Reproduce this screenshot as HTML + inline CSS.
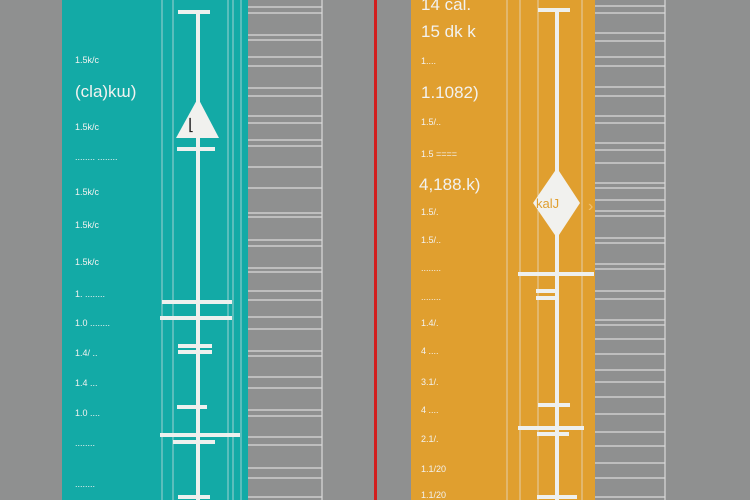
<!DOCTYPE html>
<html><head><meta charset="utf-8"><style>
html,body{margin:0;padding:0;background:#8f9090;}
svg{display:block;font-family:"Liberation Sans",sans-serif;}
</style></head><body>
<svg id="c" width="750" height="500" viewBox="0 0 750 500">
<rect width="750" height="500" fill="#8f9090"/>
<rect x="62" y="0" width="186" height="500" fill="#13aaa6"/>
<rect x="411" y="0" width="184" height="500" fill="#e09f2f"/>
<rect x="374" y="0" width="3" height="500" fill="#d21e1e"/>
<g id="grid" stroke="#e6e6e6" stroke-width="1.2" opacity="0.85"></g>
<g id="marks" fill="#eef0ee"></g>
<g id="labels" fill="#f2f2f0"></g>
<polygon points="198,98 219,138 176,138" fill="#f1f1ee"/>
<text x="188" y="130" font-size="16" fill="#222">⌊</text>
<polygon points="557,168 580,203 557,238 533,203" fill="#f1f1ee"/>
<text x="536" y="208" font-size="13" fill="#e09f2f">kalJ</text>
<text x="588" y="211" font-size="16" fill="#f2c070">›</text>
</svg>
<script>
const leftGrid=[7,13,35,40,57,66,88,96,116,123,140,146,167,188,213,217,240,246,268,272,291,300,317,329,351,356,377,388,410,416,437,445,468,478,497];
const rightGrid=[6,13,33,41,57,66,87,96,116,123,143,150,163,183,188,200,211,216,238,243,264,269,291,299,320,325,339,354,370,382,397,414,432,446,463,478,497];
const capsLeft=[[194,12,16],[196,149,19],[197,302,35],[196,318,36],[195,346,17],[195,352,17],[192,407,15],[200,435,40],[194,442,21],[194,497,16]];
const capsRight=[[554,10,16],[556,274,38],[546,291,10],[546,298,10],[554,405,16],[551,428,33],[553,434,16],[557,497,20]];
const leftLabels=[[75,63,"1.5k/c"],[75,97,"(cla)kɯ)"],[75,130,"1.5k/c"],[75,160,"........ ........"],[75,195,"1.5k/c"],[75,228,"1.5k/c"],[75,265,"1.5k/c"],[75,297,"1. ........"],[75,326,"1.0 ........"],[75,356,"1.4/ .."],[75,386,"1.4 ..."],[75,416,"1.0 ...."],[75,446,"........"],[75,487,"........"]];
const rightLabels=[[421,10,"14 cal."],[421,37,"15 dk k"],[421,64,"1...."],[421,98,"1.1082)"],[421,125,"1.5/.."],[421,157,"1.5 ===="],[419,190,"4,188.k)"],[421,215,"1.5/."],[421,243,"1.5/.."],[421,271,"........"],[421,300,"........"],[421,326,"1.4/."],[421,354,"4 ...."],[421,385,"3.1/."],[421,413,"4 ...."],[421,442,"2.1/."],[421,472,"1.1/20"],[421,498,"1.1/20"]];
const big=new Set(["(cla)kɯ)","14 cal.","15 dk k","1.1082)","4,188.k)"]);
const ns="http://www.w3.org/2000/svg";
const grid=document.getElementById('grid'),marks=document.getElementById('marks'),labels=document.getElementById('labels');
function line(g,x1,y1,x2,y2,w,name){const l=document.createElementNS(ns,'line');l.setAttribute('x1',x1);l.setAttribute('y1',y1);l.setAttribute('x2',x2);l.setAttribute('y2',y2);if(w)l.setAttribute('stroke-width',w);


g.appendChild(l);}
leftGrid.forEach(y=>line(grid,248,y,322,y,0,'left-gridline'));
rightGrid.forEach(y=>line(grid,595,y,665,y,0,'right-gridline'));
line(grid,322,0,322,500,0,'left-grid-border');
line(grid,665,0,665,500,0,'right-grid-border');
[162,173,228,233,241].forEach(x=>line(grid,x,0,x,500,0.8,'teal-guide'));
[507,520,538,582].forEach(x=>line(grid,x,0,x,500,0.8,'orange-guide'));
function rect(x,y,w,h,name){const r=document.createElementNS(ns,'rect');r.setAttribute('x',x);r.setAttribute('y',y);r.setAttribute('width',w);r.setAttribute('height',h);


marks.appendChild(r);}
rect(196,12,4,488,'teal-whisker');
rect(555,10,4,490,'orange-whisker');
capsLeft.forEach(c=>rect(c[0]-c[2],c[1]-2,c[2]*2,4,'teal-cap'));
capsRight.forEach(c=>rect(c[0]-c[2],c[1]-2,c[2]*2,4,'orange-cap'));
function txt(a,name){const t=document.createElementNS(ns,'text');t.setAttribute('x',a[0]);t.setAttribute('y',a[1]);t.setAttribute('font-size',big.has(a[2])?17:9);t.textContent=a[2];


labels.appendChild(t);}
leftLabels.forEach(a=>txt(a,'teal-label'));
rightLabels.forEach(a=>txt(a,'orange-label'));
</script>
</body></html>
